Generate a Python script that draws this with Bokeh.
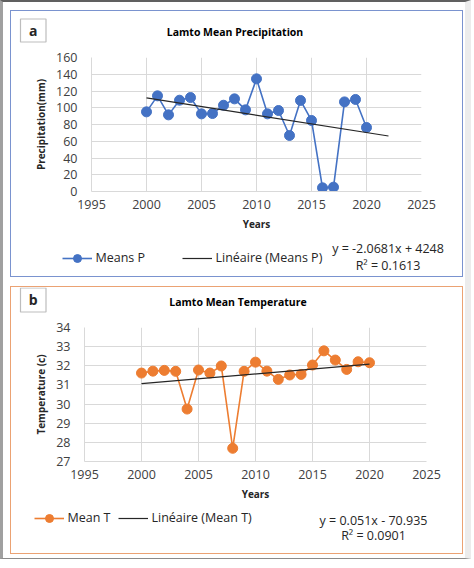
from bokeh.plotting import figure
from bokeh.models import (ColumnDataSource, FixedTicker, Label, BoxAnnotation,
                          Legend, LegendItem, Range1d)
from bokeh.layouts import column
from bokeh.embed import file_html
from bokeh.resources import INLINE

# ---------------- data ----------------
years = [2000, 2001, 2002, 2003, 2004, 2005, 2006, 2007, 2008, 2009, 2010,
         2011, 2012, 2013, 2014, 2015, 2016, 2017, 2018, 2019, 2020]
mean_precip = [95.1, 114.2, 91.5, 109.0, 112.2, 92.7, 93.1, 103.0, 110.6, 97.5, 134.5,
               92.7, 96.7, 66.9, 108.7, 84.8, 4.4, 5.2, 107.0, 109.9, 76.4]
mean_temp = [31.62, 31.72, 31.76, 31.71, 29.74, 31.78, 31.62, 31.99, 27.69, 31.71, 32.19,
             31.72, 31.29, 31.52, 31.55, 32.04, 32.78, 32.30, 31.81, 32.21, 32.16]
x_ticks = [1995, 2000, 2005, 2010, 2015, 2020, 2025]
precip_ticks = [0, 20, 40, 60, 80, 100, 120, 140, 160]
temp_ticks = [27, 28, 29, 30, 31, 32, 33, 34]

# linear trend lines (coefficients as printed on the chart)
precip_trend = {"slope": -2.0681, "intercept": 4248, "x": [2000, 2022]}
temp_trend = {"slope": 0.051, "intercept": -70.935, "x": [2000, 2020]}
precip_eq = ["y = -2.0681x + 4248", "R\u00b2 = 0.1613"]
temp_eq = ["y = 0.051x - 70.935", "R\u00b2 = 0.0901"]

FONT = "Open Sans"
BLUE = "#4472C4"
ORANGE = "#ED7D31"
GRID = "#d9d9d9"
TICK_COL = "#404040"
TEXT_COL = "#262626"
INNER_W = 451


def no_align(p):
    if hasattr(p, "frame_align"):
        p.frame_align = False
    return p


def blank(h):
    p = figure(width=INNER_W, height=h, output_backend="svg", toolbar_location=None,
               x_range=Range1d(0, 1), y_range=Range1d(0, 1),
               x_axis_location=None, y_axis_location=None,
               min_border=0, min_border_left=0, min_border_right=0,
               min_border_top=0, min_border_bottom=0)
    p.grid.visible = False
    p.outline_line_color = None
    p.background_fill_color = "white"
    p.border_fill_color = "white"
    return no_align(p)


def label(p, x, y, text, size="12.5px", bold=False, color=TEXT_COL):
    p.add_layout(Label(x=x, y=y, x_units="screen", y_units="screen", text=text,
                       text_align="center", text_baseline="middle",
                       text_font=FONT, text_font_size=size,
                       text_font_style="bold" if bold else "normal",
                       text_color=color))


def make_panel(letter, title, ylabel, series_name, trend_name, ys, y_ticks,
               trend, eqs, color, border_color, g):
    tx = trend["x"]
    ty = [trend["slope"] * v + trend["intercept"] for v in tx]

    # ---- header: letter box + title ----
    hd = blank(g["hh"])
    ll, lr, lt, lb = g["letter"]
    hd.add_layout(BoxAnnotation(left=ll, right=lr, top=lt, bottom=lb,
                                left_units="screen", right_units="screen",
                                top_units="screen", bottom_units="screen",
                                fill_color="white", fill_alpha=1,
                                line_color=TEXT_COL, line_width=1.2))
    label(hd, (ll + lr) / 2, (lt + lb) / 2 + 0.5, letter, size="14px", bold=True)
    label(hd, g["title"][0], g["title"][1], title, size="10.5px", bold=True, color="#000000")

    # ---- chart ----
    p = figure(width=INNER_W, height=g["ch"], output_backend="svg", toolbar_location=None,
               x_range=Range1d(x_ticks[0], x_ticks[-1]),
               y_range=Range1d(y_ticks[0], y_ticks[-1]),
               min_border_left=g["ml"], min_border_right=g["mr"],
               min_border_top=g["mt"], min_border_bottom=g["mb"])
    no_align(p)
    p.outline_line_color = None
    p.background_fill_color = "white"
    p.border_fill_color = "white"
    for ax, ticks in ((p.xaxis[0], x_ticks), (p.yaxis[0], y_ticks)):
        ax.ticker = FixedTicker(ticks=ticks)
        ax.major_tick_out = 0
        ax.major_tick_in = 0
        ax.minor_tick_out = 0
        ax.minor_tick_in = 0
        ax.axis_line_color = GRID
        ax.major_label_text_font = FONT
        ax.major_label_text_font_size = "12.5px"
        ax.major_label_text_color = TICK_COL
        ax.axis_label_text_font = FONT
        ax.axis_label_text_font_size = "10px"
        ax.axis_label_text_font_style = "bold"
        ax.axis_label_text_color = TEXT_COL
        ax.axis_label_standoff = 5
    p.xaxis[0].major_label_standoff = 8
    p.yaxis[0].major_label_standoff = 14
    p.xaxis[0].axis_label = "Years"
    p.yaxis[0].axis_label = ylabel
    p.xgrid.ticker = FixedTicker(ticks=x_ticks)
    p.ygrid.ticker = FixedTicker(ticks=y_ticks)
    p.grid.grid_line_color = GRID
    p.grid.grid_line_width = 1

    src = ColumnDataSource(dict(x=years, y=ys))
    p.line("x", "y", source=src, line_color=color, line_width=1.6)
    p.scatter("x", "y", source=src, size=10, fill_color=color, line_color=color)
    p.line(tx, ty, line_color=TEXT_COL, line_width=1.2)

    # ---- footer: legend + equation ----
    # the footer's ranges (0..1) keep these copies of the series out of view;
    # they only supply the legend glyphs
    ft = blank(g["fh"])
    fsrc = ColumnDataSource(dict(x=years, y=ys))
    r_line = ft.line("x", "y", source=fsrc, line_color=color, line_width=1.6)
    r_pt = ft.scatter("x", "y", source=fsrc, size=10, fill_color=color, line_color=color)
    r_tr = ft.line(tx, ty, line_color=TEXT_COL, line_width=1.2)
    for items, loc in (([LegendItem(label=series_name, renderers=[r_line, r_pt])], g["leg1"]),
                       ([LegendItem(label=trend_name, renderers=[r_tr])], g["leg2"])):
        ft.add_layout(Legend(items=items, location=loc, orientation="horizontal",
                             padding=0, margin=0, spacing=0, border_line_color=None,
                             background_fill_alpha=0, glyph_width=30, glyph_height=20,
                             label_height=20, label_standoff=4,
                             label_text_font=FONT, label_text_font_size="12.5px",
                             label_text_color=TEXT_COL), "center")
    for txt, (ex, ey) in zip(eqs, g["eq"]):
        label(ft, ex, ey, txt)

    return column(hd, p, ft, spacing=0, margin=g["margin"],
                  styles={"border": "1.5px solid " + border_color})


geo_a = dict(hh=36, ch=193, fh=36, ml=80, mr=41, mt=10, mb=49,
             letter=(9, 34.5, 28.5, 5.5), title=(223.5, 15.5),
             leg1=(50.5, 8.5), leg2=(170.5, 8.5),
             eq=[(376.5, 28.5), (376.5, 11.5)],
             margin=(8, 2, 0, 7))
geo_b = dict(hh=30, ch=190, fh=46, ml=73, mr=36, mt=10, mb=46,
             letter=(9, 34.5, 29.5, 5.5), title=(226.5, 15.5),
             leg1=(22.5, 25.5), leg2=(106.5, 25.5),
             eq=[(362, 33.5), (362, 18.5)],
             margin=(9, 2, 4, 7))

pa = make_panel("a", "Lamto Mean Precipitation", "Precipitation(mm)", "Means P",
                "Lin\u00e9aire (Means P)", mean_precip, precip_ticks, precip_trend,
                precip_eq, BLUE, "#7A93CF", geo_a)
pb = make_panel("b", "Lamto Mean Temperature", "Temperature (c)", "Mean T",
                "Lin\u00e9aire (Mean T)", mean_temp, temp_ticks, temp_trend,
                temp_eq, ORANGE, "#EBA273", geo_b)

layout = column(pa, pb, spacing=0,
                styles={"border-left": "3px solid #a0a0a0",
                        "border-top": "2px solid #606060",
                        "border-bottom": "1.5px solid #8a8a8a",
                        "border-right": "6px solid #ececec",
                        "background-color": "white"})
open("out.html", "w").write(file_html(layout, INLINE))
